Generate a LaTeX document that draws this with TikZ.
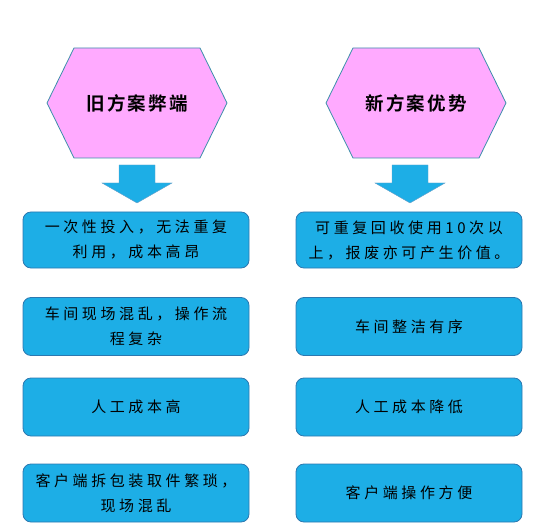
\documentclass[tikz,border=0pt]{standalone}
\usepackage{fontspec}
\usepackage{xcolor}
\usetikzlibrary{calc,positioning}
\newfontfamily\cjk[LetterSpace=24]{Noto Sans CJK SC}
\newfontfamily\cjkbf[LetterSpace=12]{Noto Sans CJK SC Bold}
\definecolor{bluex}{HTML}{1DAEE6}
\definecolor{edgex}{HTML}{2C78B0}
\definecolor{pinkx}{HTML}{FFAAFF}
\definecolor{tealx}{HTML}{3C8FAA}
\tikzset{
  box/.style={draw=edgex,thick,rounded corners=8pt,fill=bluex,align=center,minimum width=226pt,minimum height=58pt,inner sep=2pt,font=\cjk\fontsize{15}{25}\selectfont},
  hexa/.style={draw=tealx,thick,fill=pinkx},
  ttl/.style={font=\cjkbf\fontsize{18.5}{20}\selectfont},
  dn/.style={draw=edgex!70,fill=bluex,thin}
}

\begin{document}
\begin{tikzpicture}[x=1pt,y=-1pt]
\useasboundingbox (0,0) rectangle (550,527);
\def\hw{90}\def\hi{27}\def\hh{55}
% title hexagons
\foreach \cx/\nm in {137/oldH,416/newH}{
  \coordinate (\nm) at (\cx,103);
  \draw[hexa] ($(\nm)+(-\hw,0)$)--($(\nm)+(-\hw+\hi,-\hh)$)--($(\nm)+(\hw-\hi,-\hh)$)
    --($(\nm)+(\hw,0)$)--($(\nm)+(\hw-\hi,\hh)$)--($(\nm)+(-\hw+\hi,\hh)$)--cycle;
}
\node[ttl] (oldT) at (oldH) {旧方案弊端};
\node[ttl] (newT) at (newH) {新方案优势};
% down arrows
\foreach \cx in {137,410}{
  \draw[dn] (\cx-18,165)--(\cx+18,165)--(\cx+18,183)--(\cx+35,183)--(\cx,203)
    --(\cx-35,183)--(\cx-18,183)--cycle;
}
% old scheme
\node[box,minimum height=56pt] (o1) at (136,240) {一次性投入，无法重复\\利用，成本高昂};
\node[box] (o2) at (136,326.5) {车间现场混乱，操作流\\程复杂};
\node[box] (o3) at (136,407) {人工成本高};
\node[box] (o4) at (136,493) {客户端拆包装取件繁琐，\\现场混乱};
% new scheme
\node[box,minimum height=56pt] (n1) at (409,240) {可重复回收使用10次以\\上，报废亦可产生价值。};
\node[box] (n2) at (409,326.5) {车间整洁有序};
\node[box] (n3) at (409,407) {人工成本降低};
\node[box] (n4) at (409,493) {客户端操作方便};
\end{tikzpicture}
\end{document}
